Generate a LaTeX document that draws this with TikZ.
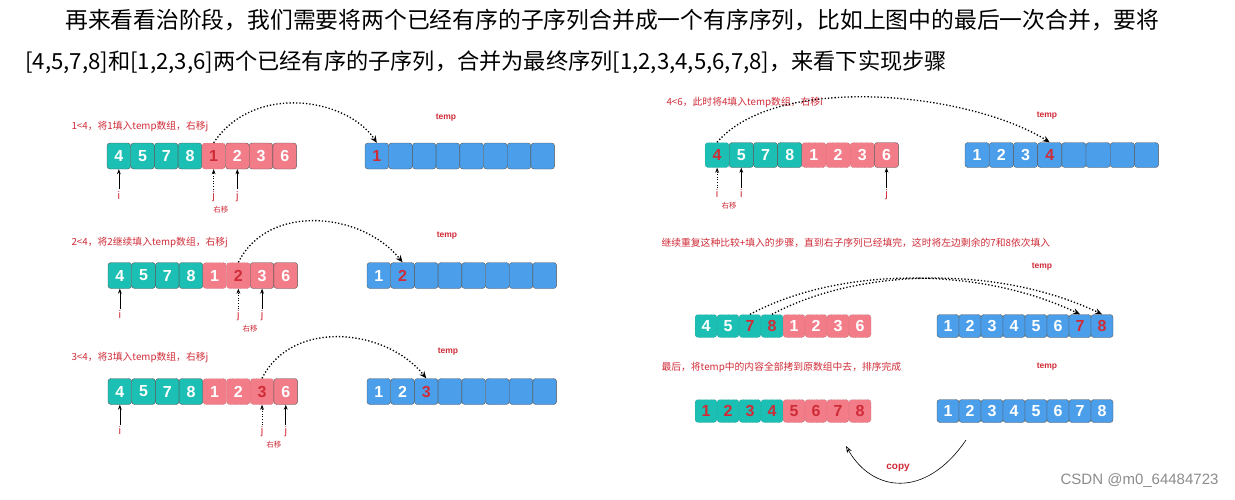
\documentclass[tikz,border=0pt]{standalone}
\usepackage{fontspec}
\setsansfont{Liberation Sans}
\newfontfamily\cjk{Noto Sans CJK SC}
\usetikzlibrary{arrows.meta,positioning,calc}

\definecolor{tealc}{HTML}{1CBFB3}
\definecolor{pinkc}{HTML}{F27C88}
\definecolor{bluec}{HTML}{4A9EEA}
\definecolor{redc}{HTML}{D02C38}

% one row of cells: name / left x / centre y / pitch / height / cells
\newcommand\arrayrow[6]{%
  \foreach \v/\s [count=\k] in {#6}
    \node[cell,\s,minimum width=#4pt,minimum height=#5pt] (#1\k) at ({#2+(\k-0.5)*#4},#3) {\v};%
}
% pointer arrow under a cell: name / cell / line style / label
\newcommand\ptr[4]{%
  \coordinate (#1tail) at ([yshift=-20pt]#2.south);
  \draw[ptrarrow,#3] (#1tail) -- (#2.south);
  \node[idx,below=2pt of #1tail] (#1lab) {#4};%
}

\begin{document}
\begin{tikzpicture}[x=1pt,y=-1pt,
    cell/.style={
      draw=black!65,
      rounded corners=3pt,
      inner sep=0pt,
      text=white,
      font=\sffamily\bfseries\fontsize{16}{16}\selectfont},
    t/.style={fill=tealc},
    td/.style={fill=tealc,dotted},
    r/.style={fill=pinkc},
    rd/.style={fill=pinkc,dotted},
    b/.style={fill=bluec},
    hl/.style={text=redc},
    th/.style={t,hl}, tdh/.style={td,hl},
    rh/.style={r,hl}, rdh/.style={rd,hl},
    bh/.style={b,hl},
    step_text/.style={text=redc,anchor=west,font=\cjk\fontsize{9.8}{10}\selectfont},
    temp_text/.style={text=redc,font=\sffamily\bfseries\fontsize{8.5}{8.5}\selectfont},
    idx/.style={text=redc,inner sep=0pt,font=\sffamily\fontsize{11}{11}\selectfont},
    shift_text/.style={text=redc,inner sep=0pt,font=\cjk\fontsize{7.5}{7.5}\selectfont},
    ptrarrow/.style={-{Stealth[length=5pt]},semithick},
    flow/.style={dotted,line width=1.3pt,-{Stealth[length=7pt,width=6pt]}}
  ]
  \useasboundingbox[fill=white] (0,0) rectangle (1235,499);

  % page text
  \node[anchor=west,inner sep=0pt,font=\cjk\fontsize{22.8}{23}\selectfont] (line1) at (65,20)
    {再来看看治阶段，我们需要将两个已经有序的子序列合并成一个有序序列，比如上图中的最后一次合并，要将};
  \node[anchor=west,inner sep=0pt,font=\cjk\fontsize{22.2}{23}\selectfont] (line2) at (25,62)
    {[4,5,7,8]和[1,2,3,6]两个已经有序的子序列，合并为最终序列[1,2,3,4,5,6,7,8]，来看下实现步骤};

  %step 1
  \node[step_text] (s1) at (68,127) {1<4，将1填入temp数组，右移j};
  \node[temp_text] (tt1) at (446,118) {temp};
  \arrayrow{a}{107}{156}{23.7}{26}{4/t,5/t,7/t,8/t,1/rdh,2/r,3/r,6/r}
  \arrayrow{ta}{365}{156}{23.7}{26}{1/bh,/b,/b,/b,/b,/b,/b,/b}
  \ptr{ai}{a1}{}{i}
  \ptr{aj}{a5}{dotted}{j}
  \ptr{ak}{a6}{}{j}
  \node[shift_text,below=4pt] (m1) at ($(ajlab.south)!0.3!(aklab.south)$) {右移};
  \draw[flow] (a5.north) .. controls +(40,-60) and +(-30,-45) .. (ta1.north);

  %step 2
  \node[step_text] (s2) at (68,243) {2<4，将2继续填入temp数组，右移j};
  \node[temp_text] (tt2) at (447,236) {temp};
  \arrayrow{c}{108}{275.5}{23.7}{26}{4/t,5/t,7/t,8/t,1/rd,2/rdh,3/r,6/r}
  \arrayrow{tc}{367}{275.5}{23.7}{26}{1/b,2/bh,/b,/b,/b,/b,/b,/b}
  \ptr{ci}{c1}{}{i}
  \ptr{cj}{c6}{dotted}{j}
  \ptr{ck}{c7}{}{j}
  \node[shift_text,below=4pt] (m2) at ($(cjlab.south)!0.5!(cklab.south)$) {右移};
  \draw[flow] (c6.north) .. controls +(30,-60) and +(-40,-50) .. (tc2.north);

  %step 3
  \node[step_text] (s3) at (68,358) {3<4，将3填入temp数组，右移j};
  \node[temp_text] (tt3) at (448,352) {temp};
  \arrayrow{e}{108}{391.5}{23.7}{26}{4/t,5/t,7/t,8/t,1/rd,2/rd,3/rdh,6/r}
  \arrayrow{te}{367}{391.5}{23.7}{26}{1/b,2/b,3/bh,/b,/b,/b,/b,/b}
  \ptr{ei}{e1}{}{i}
  \ptr{ej}{e7}{dotted}{j}
  \ptr{ek}{e8}{}{j}
  \node[shift_text,below=4pt] (m3) at ($(ejlab.south)!0.5!(eklab.south)$) {右移};
  \draw[flow] (e7.north) .. controls +(30,-60) and +(-40,-50) .. (te3.north);

  %step 4
  \node[step_text] (s4) at (663,102) {4<6，此时将4填入temp数组，右移i};
  \node[temp_text] (tt4) at (1047,116) {temp};
  \arrayrow{g}{705}{155}{24.2}{25}{4/tdh,5/t,7/t,8/t,1/rd,2/rd,3/rd,6/r}
  \arrayrow{tg}{965}{155}{24.2}{25}{1/b,2/b,3/b,4/bh,/b,/b,/b,/b}
  \ptr{gi}{g1}{dotted}{i}
  \ptr{gj}{g2}{}{i}
  \ptr{gk}{g8}{}{j}
  \node[shift_text,below=4pt] (m4) at ($(gilab.south)!0.5!(gjlab.south)$) {右移};
  \draw[flow] (g1.north) .. controls +(60,-70) and +(-80,-50) .. (tg4.north);

  %rest of the steps
  \node[step_text] (s5) at (658,243) {继续重复这种比较+填入的步骤，直到右子序列已经填完，这时将左边剩余的7和8依次填入};
  \node[temp_text] (tt5) at (1042,267) {temp};
  \arrayrow{k}{695}{326}{22}{23}{4/td,5/td,7/tdh,8/tdh,1/rd,2/rd,3/rd,6/rd}
  \arrayrow{tk}{937}{326}{22}{23}{1/b,2/b,3/b,4/b,5/b,6/b,7/bh,8/bh}
  \foreach \p/\q in {k3/tk7,k4/tk8}
    \draw[flow] (\p.north) .. controls +(90,-48) and +(-100,-48) .. (\q.north);

  %copy back
  \node[step_text] (s6) at (658,367) {最后，将temp中的内容全部拷到原数组中去，排序完成};
  \node[temp_text] (tt6) at (1047,367) {temp};
  \arrayrow{m}{695}{411}{22}{23}{1/tdh,2/tdh,3/tdh,4/tdh,5/rdh,6/rdh,7/rdh,8/rdh}
  \arrayrow{tm}{937}{411}{22}{23}{1/b,2/b,3/b,4/b,5/b,6/b,7/b,8/b}
  \coordinate (cpa) at (966,440);
  \coordinate (cpb) at (846,446);
  \draw[semithick,-{Stealth[open,length=7pt]}] (cpa) .. controls (925,500) and (872,492) .. (cpb);
  \node[text=redc,font=\sffamily\bfseries\fontsize{10}{10}\selectfont] (cp) at (898,468) {copy};

  \node[anchor=east,text=black!45,font=\sffamily\fontsize{15}{15}\selectfont] (wm) at (1222,481) {CSDN @m0\_64484723};
\end{tikzpicture}
\end{document}
